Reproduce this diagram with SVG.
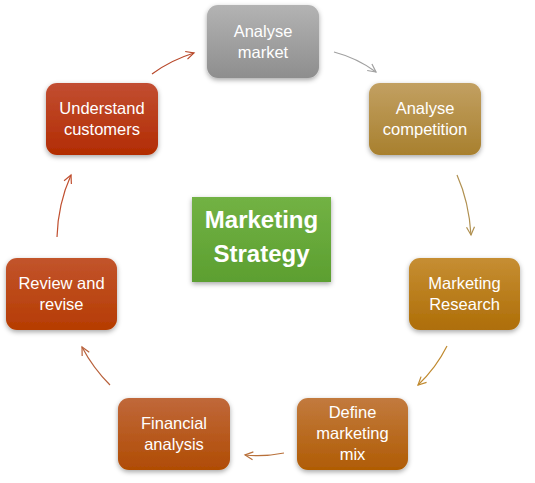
<svg xmlns="http://www.w3.org/2000/svg" width="535" height="483" viewBox="0 0 535 483">
<defs>
<filter id="sh" x="-20%" y="-20%" width="140%" height="150%">
<feDropShadow dx="0" dy="2" stdDeviation="2.5" flood-color="#000" flood-opacity="0.35"/>
</filter>
<linearGradient id="gGray" x1="0" y1="0" x2="0" y2="1"><stop offset="0" stop-color="#b3b3b3"/><stop offset="1" stop-color="#8e8e8e"/></linearGradient>
<linearGradient id="gComp" x1="0" y1="0" x2="0" y2="1"><stop offset="0" stop-color="#c2a062"/><stop offset="1" stop-color="#a8802e"/></linearGradient>
<linearGradient id="gRes" x1="0" y1="0" x2="0" y2="1"><stop offset="0" stop-color="#c68e33"/><stop offset="1" stop-color="#ae6e08"/></linearGradient>
<linearGradient id="gMix" x1="0" y1="0" x2="0" y2="1"><stop offset="0" stop-color="#c27a3e"/><stop offset="1" stop-color="#b05c04"/></linearGradient>
<linearGradient id="gFin" x1="0" y1="0" x2="0" y2="1"><stop offset="0" stop-color="#c0683a"/><stop offset="1" stop-color="#b04c04"/></linearGradient>
<linearGradient id="gRev" x1="0" y1="0" x2="0" y2="1"><stop offset="0" stop-color="#c2542c"/><stop offset="1" stop-color="#b63c02"/></linearGradient>
<linearGradient id="gUnd" x1="0" y1="0" x2="0" y2="1"><stop offset="0" stop-color="#c24e32"/><stop offset="1" stop-color="#b22c02"/></linearGradient>
<linearGradient id="gGreen" x1="0" y1="0" x2="0" y2="1"><stop offset="0" stop-color="#72b244"/><stop offset="1" stop-color="#5c9f30"/></linearGradient>
<marker id="m1" markerUnits="userSpaceOnUse" markerWidth="12" markerHeight="12" refX="10" refY="5" orient="auto" viewBox="0 0 12 10"><path d="M2,1 L10,5 L2,9" fill="none" stroke="#b8482a" stroke-width="1.2"/></marker>
<marker id="m2" markerUnits="userSpaceOnUse" markerWidth="12" markerHeight="12" refX="10" refY="5" orient="auto" viewBox="0 0 12 10"><path d="M2,1 L10,5 L2,9" fill="none" stroke="#a0a0a0" stroke-width="1.2"/></marker>
<marker id="m3" markerUnits="userSpaceOnUse" markerWidth="12" markerHeight="12" refX="10" refY="5" orient="auto" viewBox="0 0 12 10"><path d="M2,1 L10,5 L2,9" fill="none" stroke="#b09050" stroke-width="1.2"/></marker>
<marker id="m4" markerUnits="userSpaceOnUse" markerWidth="12" markerHeight="12" refX="10" refY="5" orient="auto" viewBox="0 0 12 10"><path d="M2,1 L10,5 L2,9" fill="none" stroke="#c08a30" stroke-width="1.2"/></marker>
<marker id="m5" markerUnits="userSpaceOnUse" markerWidth="12" markerHeight="12" refX="10" refY="5" orient="auto" viewBox="0 0 12 10"><path d="M2,1 L10,5 L2,9" fill="none" stroke="#b8703a" stroke-width="1.2"/></marker>
<marker id="m6" markerUnits="userSpaceOnUse" markerWidth="12" markerHeight="12" refX="10" refY="5" orient="auto" viewBox="0 0 12 10"><path d="M2,1 L10,5 L2,9" fill="none" stroke="#b8603a" stroke-width="1.2"/></marker>
<marker id="m7" markerUnits="userSpaceOnUse" markerWidth="12" markerHeight="12" refX="10" refY="5" orient="auto" viewBox="0 0 12 10"><path d="M2,1 L10,5 L2,9" fill="none" stroke="#c05030" stroke-width="1.2"/></marker>
</defs>
<style>
.box{filter:url(#sh);}
.t{font-family:"Liberation Sans",Arial,sans-serif;font-size:16.5px;fill:#fff;text-anchor:middle;}
.tt{font-family:"Liberation Sans",Arial,sans-serif;font-size:24px;font-weight:bold;fill:#fff;text-anchor:middle;}
.c{fill:none;stroke-width:1.2;}
</style>
<rect width="535" height="483" fill="#fff"/>
<g id="connectors">
<path class="c" stroke="#b8482a" marker-end="url(#m1)" d="M152,74 Q171,60 194,53"/>
<path class="c" stroke="#a0a0a0" marker-end="url(#m2)" d="M334,52 Q357,58 376,72"/>
<path class="c" stroke="#b09050" marker-end="url(#m3)" d="M457,175 Q469,202 471,235"/>
<path class="c" stroke="#c08a30" marker-end="url(#m4)" d="M447,346 Q436,368 418,385"/>
<path class="c" stroke="#b8703a" marker-end="url(#m5)" d="M284,453 Q264,457 245,455"/>
<path class="c" stroke="#b8603a" marker-end="url(#m6)" d="M110,385 Q93,368 82,347"/>
<path class="c" stroke="#c05030" marker-end="url(#m7)" d="M57,237 Q58,204 71,175"/>
</g>
<g id="analyse-market">
<rect class="box" x="207" y="5" width="112" height="73" rx="11" fill="url(#gGray)"/>
<text class="t" x="263" y="36.5">Analyse</text>
<text class="t" x="263" y="57.5">market</text>
</g>
<g id="analyse-competition">
<rect class="box" x="369" y="83" width="112" height="72" rx="11" fill="url(#gComp)"/>
<text class="t" x="425" y="114">Analyse</text>
<text class="t" x="425" y="135">competition</text>
</g>
<g id="marketing-research">
<rect class="box" x="409" y="258" width="111" height="72" rx="11" fill="url(#gRes)"/>
<text class="t" x="464.5" y="289">Marketing</text>
<text class="t" x="464.5" y="310">Research</text>
</g>
<g id="define-marketing-mix">
<rect class="box" x="297" y="398" width="111" height="72" rx="11" fill="url(#gMix)"/>
<text class="t" x="352.5" y="418">Define</text>
<text class="t" x="352.5" y="439">marketing</text>
<text class="t" x="352.5" y="460">mix</text>
</g>
<g id="financial-analysis">
<rect class="box" x="118" y="398" width="112" height="72" rx="11" fill="url(#gFin)"/>
<text class="t" x="174" y="429">Financial</text>
<text class="t" x="174" y="450">analysis</text>
</g>
<g id="review-and-revise">
<rect class="box" x="6" y="258" width="111" height="72" rx="11" fill="url(#gRev)"/>
<text class="t" x="61.5" y="289">Review and</text>
<text class="t" x="61.5" y="310">revise</text>
</g>
<g id="understand-customers">
<rect class="box" x="46" y="83" width="112" height="72" rx="11" fill="url(#gUnd)"/>
<text class="t" x="102" y="114">Understand</text>
<text class="t" x="102" y="135">customers</text>
</g>
<g id="marketing-strategy">
<rect class="box" x="192" y="197" width="139" height="85" fill="url(#gGreen)"/>
<text class="tt" x="261.5" y="228">Marketing</text>
<text class="tt" x="261.5" y="262">Strategy</text>
</g>
</svg>
